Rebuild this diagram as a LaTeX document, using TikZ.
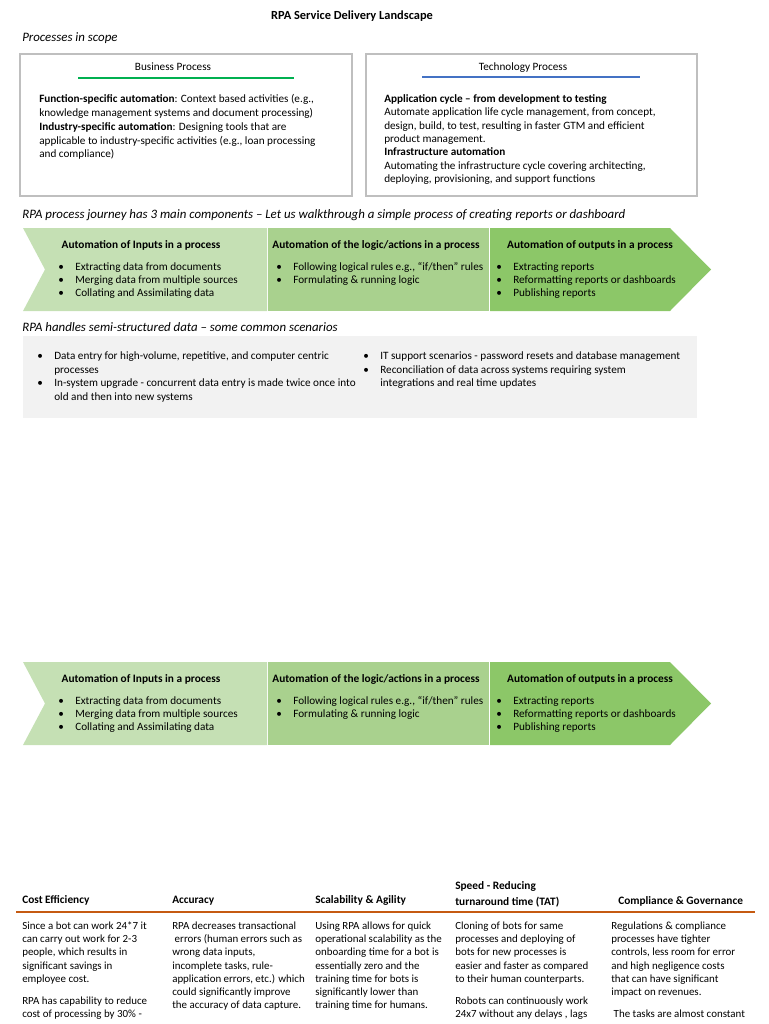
\documentclass[tikz,border=0pt]{standalone}
\usepackage{fontspec}
\setmainfont{Carlito}
\usetikzlibrary{positioning}

\definecolor{inpgreen}{HTML}{C5E0B4}
\definecolor{logicgreen}{HTML}{A9D18E}
\definecolor{outgreen}{HTML}{8CC768}
\definecolor{framegray}{HTML}{BFBFBF}
\definecolor{scengray}{HTML}{F2F2F2}
\definecolor{bizgreen}{HTML}{00B050}
\definecolor{techblue}{HTML}{4472C4}
\definecolor{tabrule}{HTML}{C55A11}

\newcommand{\txtlines}[1]{\begin{tabular}[t]{@{}l@{}}#1\end{tabular}}
\newcommand{\bulletlist}[1]{\begin{tabular}[t]{@{}l@{\hspace{8.6pt}}l@{}}#1\end{tabular}}
\newcommand{\bul}{\textbullet}

\tikzset{
  body/.style={font=\fontsize{8.2}{9.9}\selectfont, inner sep=0pt, anchor=base west},
  headline/.style={font=\itshape\fontsize{9.65}{11}\selectfont, inner sep=0pt, anchor=base west},
  boxtitle/.style={font=\fontsize{8.4}{10}\selectfont, inner sep=0pt, anchor=base},
  stephead/.style={font=\bfseries\fontsize{8.5}{10}\selectfont, inner sep=0pt, anchor=base},
  colhead/.style={font=\bfseries\fontsize{8.5}{12}\selectfont, inner sep=0pt, anchor=base west},
  frame/.style={draw=framegray, line width=0.8pt}
}

\begin{document}
\begin{tikzpicture}[x=0.75pt, y=-0.75pt]
	\useasboundingbox (0,0) rectangle (768,1024);
	
	\node [font=\bfseries\fontsize{9.3}{12}\selectfont, inner sep=0pt, anchor=base] (title) at (352,20) {RPA Service Delivery Landscape};
	\node [headline] (scopehead) at (22,42) {Processes in scope};
	
	\draw [frame] (20,54) rectangle (352,196); % Business Process
	\node [boxtitle] (bizhead) at (173,71) {Business Process};
	\draw [bizgreen, line width=1.5pt] (78,78) -- (294,78);
	\node [body, font=\fontsize{8.4}{10.4}\selectfont] (biztext) at (39,102.5) {\txtlines{%
		\textbf{Function-specific automation}: Context based activities (e.g.,\\
		knowledge management systems and document processing)\\
		\textbf{Industry-specific automation}: Designing tools that are\\
		applicable to industry-specific activities (e.g., loan processing\\
		and compliance)}};
	
	\draw [frame] (366,54) rectangle (697,196); % Technology Process
	\node [boxtitle] (techhead) at (523,71) {Technology Process};
	\draw [techblue, line width=1.5pt] (422,77) -- (640,77);
	\node [body, font=\fontsize{8.4}{10}\selectfont] (techtext) at (384,102.5) {\txtlines{%
		\textbf{Application cycle -- from development to testing}\\
		Automate application life cycle management, from concept,\\
		design, build, to test, resulting in faster GTM and efficient\\
		product management.\\
		\textbf{Infrastructure automation}\\
		Automating the infrastructure cycle covering architecting,\\
		deploying, provisioning, and support functions}};
	
	\node [headline] (journeyhead) at (22,218) {RPA process journey has 3 main components -- Let us walkthrough a simple process of creating reports or dashboard};
	
	% two identical process bands
	\foreach \dy/\k in {228/a,662/b} {
		\begin{scope}[shift={(0,\dy)}]
			\fill [inpgreen] (23,0) -- (267,0) -- (267,83) -- (23,83) -- (45,41.5) -- cycle;
			\fill [logicgreen] (268,0) rectangle (489,83);
			\fill [outgreen] (490,0) -- (670,0) -- (711,41.5) -- (670,83) -- (490,83) -- cycle;
			
			\node [stephead] (inhead\k) at (141,20.5) {Automation of Inputs in a process};
			\node [stephead] (logichead\k) at (376,20.5) {Automation of the logic/actions in a process};
			\node [stephead] (outhead\k) at (590,20.5) {Automation of outputs in a process};
			
			\node [body, font=\fontsize{8.4}{9.75}\selectfont] (inlist\k) at (58,42) {\bulletlist{%
				\bul & Extracting data from documents\\
				\bul & Merging data from multiple sources\\
				\bul & Collating and Assimilating data}};
			\node [body, font=\fontsize{8.4}{9.75}\selectfont] (logiclist\k) at (276,42) {\bulletlist{%
				\bul & Following logical rules e.g., ``if/then'' rules\\
				\bul & Formulating \& running logic}};
			\node [body, font=\fontsize{8.4}{9.75}\selectfont] (outlist\k) at (496,42) {\bulletlist{%
				\bul & Extracting reports\\
				\bul & Reformatting reports or dashboards\\
				\bul & Publishing reports}};
		\end{scope}
	}
	
	\node [headline] (scenhead) at (22,331) {RPA handles semi-structured data -- some common scenarios};
	\fill [scengray] (23,336) rectangle (697,418); % Scenarios
	\node [body, font=\fontsize{8.4}{10.3}\selectfont] (scenleft) at (37,359.5) {\bulletlist{%
		\bul & Data entry for high-volume, repetitive, and computer centric\\
		& processes\\
		\bul & In-system upgrade - concurrent data entry is made twice once into\\
		& old and then into new systems}};
	\node [body, font=\fontsize{8.4}{10.3}\selectfont] (scenright) at (363,359.5) {\bulletlist{%
		\bul & IT support scenarios - password resets and database management\\
		\bul & Reconciliation of data across systems requiring system\\
		& integrations and real time updates}};
	
	% benefits table
	\node [colhead] (costhead) at (22,903.5) {Cost Efficiency};
	\node [colhead] (acchead) at (172,903.5) {Accuracy};
	\node [colhead] (scalehead) at (315,903.5) {Scalability \& Agility};
	\node [colhead] (speedhead) at (455,889.5) {\txtlines{Speed - Reducing\\ turnaround time (TAT)}};
	\node [colhead] (comphead) at (618,904.5) {Compliance \& Governance};
	\draw [tabrule, line width=1.5pt] (16,912) -- (755,912);
	
	\node [body] (costtext) at (22,929.5) {\txtlines{%
		Since a bot can work 24*7 it\\
		can carry out work for 2-3\\
		people, which results in\\
		significant savings in\\
		employee cost.\\[6.6pt]
		RPA has capability to reduce\\
		cost of processing by 30\% -}};
	\node [body] (acctext) at (172,929.5) {\txtlines{%
		RPA decreases transactional\\
		\ errors (human errors such as\\
		wrong data inputs,\\
		incomplete tasks, rule-\\
		application errors, etc.) which\\
		could significantly improve\\
		the accuracy of data capture.}};
	\node [body] (scaletext) at (315,929.5) {\txtlines{%
		Using RPA allows for quick\\
		operational scalability as the\\
		onboarding time for a bot is\\
		essentially zero and the\\
		training time for bots is\\
		significantly lower than\\
		training time for humans.}};
	\node [body] (speedtext) at (455,929.5) {\txtlines{%
		Cloning of bots for same\\
		processes and deploying of\\
		bots for new processes is\\
		easier and faster as compared\\
		to their human counterparts.\\[6.6pt]
		Robots can continuously work\\
		24x7 without any delays , lags}};
	\node [body] (comptext) at (611,929.5) {\txtlines{%
		Regulations \& compliance\\
		processes have tighter\\
		controls, less room for error\\
		and high negligence costs\\
		that can have significant\\
		impact on revenues.\\[6.6pt]
		\ The tasks are almost constant}};
\end{tikzpicture}
\end{document}
